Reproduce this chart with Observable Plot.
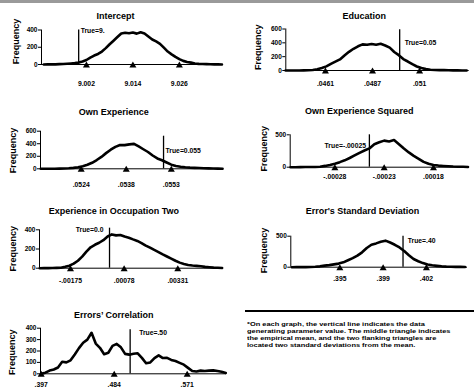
<!DOCTYPE html>
<html>
<head>
<meta charset="utf-8">
<script src="https://cdn.jsdelivr.net/npm/d3@7"></script>
<script src="https://cdn.jsdelivr.net/npm/@observablehq/plot@0.6"></script>
<style>
html, body { margin: 0; padding: 0; background: #fff; }
#chart { position: relative; width: 474px; height: 387px; overflow: hidden; background: #fff; font-family: "Liberation Sans", Arial, sans-serif; }
#topbar { position: absolute; left: 0; top: 0; width: 474px; height: 3px; background: #9a9a9a; }
.panel { position: absolute; }
#rule { position: absolute; left: 245px; top: 310.3px; width: 229px; height: 1.5px; background: #000; }
#note { position: absolute; left: 247px; top: 321px; font-size: 6.2px; line-height: 6.9px; font-weight: bold; color: #000; white-space: nowrap; transform: scaleX(1.2); transform-origin: 0 0; }
</style>
</head>
<body>
<div id="chart">
  <div id="topbar"></div>
  <div id="rule"></div>
  <div id="note">*On each graph, the vertical line indicates the data<br>generating parameter value. The middle triangle indicates<br>the empirical mean, and the two flanking triangles are<br>located two standard deviations from the mean.</div>
</div>
<script>
// ---------- Data ----------
// Intercept
const interceptTitle = "Intercept";
const interceptBinStart = 8.991, interceptBinWidth = 0.001;
const interceptFreq = [0,1,1,2,4,6,9,12,16,22,35,52,80,104,122,150,190,235,276,318,360,368,362,370,358,374,360,325,290,268,240,195,150,118,88,62,42,30,22,12,7,5,4,3,2,1,0];
const interceptTriangles = [9.002, 9.014, 9.026];
const interceptTickLabels = ["9.002", "9.014", "9.026"];
const interceptTrueLine = 9.0;
const interceptTrueLabel = "True=9.";
const interceptYTicks = [0, 200, 400];
const interceptXDomain = [8.9904, 9.0374];

// Education
const educationTitle = "Education";
const educationBinStart = 0.0439, educationBinWidth = 0.00025;
const educationFreq = [0,0,1,1,2,4,8,18,36,60,96,128,160,218,270,314,350,378,372,384,372,386,362,330,268,222,166,130,92,58,36,20,11,8,6,5,3,2,2,1,0];
const educationTriangles = [0.0461, 0.0487, 0.0513];
const educationTickLabels = [".0461", ".0487", ".051"];
const educationTrueLine = 0.0502;
const educationTrueLabel = "True=0.05";
const educationYTicks = [0, 200, 400, 600];
const educationXDomain = [0.04391, 0.05404];

// Own Experience
const ownExpTitle = "Own Experience";
const ownExpBinStart = 0.05105, ownExpBinWidth = 0.00015;
const ownExpFreq = [0,1,1,2,3,4,8,15,26,42,64,96,140,190,250,305,350,380,378,390,398,356,312,268,212,165,136,100,66,46,34,25,19,15,12,9,7,5,3,1];
const ownExpTriangles = [0.05235, 0.0538, 0.05525];
const ownExpTickLabels = [".0524", ".0538", ".0553"];
const ownExpTrueLine = 0.055;
const ownExpTrueLabel = "True=0.055";
const ownExpYTicks = [0, 200, 400, 600];
const ownExpXDomain = [0.05104, 0.05692];

// Own Experience Squared
const ownExpSqTitle = "Own Experience Squared";
const ownExpSqBinStart = -0.000325, ownExpSqBinWidth = 0.000005;
const ownExpSqFreq = [0,0,1,2,3,4,8,20,34,52,78,106,142,182,222,258,290,355,385,410,398,418,355,288,228,175,130,82,52,34,25,19,14,10,8,6,4];
const ownExpSqTriangles = [-0.00028, -0.00023, -0.00018];
const ownExpSqTickLabels = ["-.00028", "-.00023", ".00018"];
const ownExpSqTrueLine = -0.000245;
const ownExpSqTrueLabel = "True=-.00025";
const ownExpSqYTicks = [0, 500];
const ownExpSqXDomain = [-0.0003253, -0.0001455];

// Experience in Occupation Two
const occTwoTitle = "Experience in Occupation Two";
const occTwoBinStart = -0.0032, occTwoBinWidth = 0.0002;
const occTwoFreq = [0,1,1,2,3,4,14,26,48,78,120,172,218,244,265,292,330,352,342,346,330,318,300,284,262,236,214,190,168,144,122,100,78,58,44,34,28,24,20,14,10,6,4,2];
const occTwoTriangles = [-0.00175, 0.00078, 0.00331];
const occTwoTickLabels = ["-.00175", ".00078", ".00331"];
const occTwoTrueLine = 0.00009;
const occTwoTrueLabel = "True=0.0";
const occTwoYTicks = [0, 200, 400];
const occTwoXDomain = [-0.003212, 0.005404];

// Error's Standard Deviation
const errSdTitle = "Error's Standard Deviation";
const errSdBinStart = 0.3912, errSdBinWidth = 0.0004;
const errSdFreq = [0,1,1,2,4,7,14,25,34,46,58,78,112,146,186,240,310,362,384,410,428,398,362,318,262,194,132,96,66,43,31,22,14,10,8,6,5,4];
const errSdTriangles = [0.3953, 0.399, 0.4027];
const errSdTickLabels = [".395", ".399", ".402"];
const errSdTrueLine = 0.4007;
const errSdTrueLabel = "True=.40";
const errSdYTicks = [0, 500];
const errSdXDomain = [0.39111, 0.40621];

// Errors' Correlation
const errCorrTitle = "Errors\u2019 Correlation";
const errCorrBinStart = 0.397, errCorrBinWidth = 0.005;
const errCorrFreq = [0,10,28,38,55,105,100,118,170,225,272,300,360,265,228,172,185,245,262,232,175,168,176,180,140,92,100,138,162,138,140,122,112,96,80,52,24,20,28,24,28,30,24,18,8];
const errCorrTriangles = [0.397, 0.484, 0.571];
const errCorrTickLabels = [".397", ".484", ".571"];
const errCorrTrueLine = 0.503;
const errCorrTrueLabel = "True=.50";
const errCorrYTicks = [0, 100, 200, 300, 400];
const errCorrXDomain = [0.39616, 0.61784];

// ---------- Layout (page pixels) ----------
const panels = [
  {title: interceptTitle, binStart: interceptBinStart, binWidth: interceptBinWidth, freq: interceptFreq, tri: interceptTriangles, triLabels: interceptTickLabels, trueLine: interceptTrueLine, trueLabel: interceptTrueLabel, yTicks: interceptYTicks, xDomain: interceptXDomain,
   box: [0, 0, 237, 95], frame: [41, 223, 29.5, 64], titleAt: [115, 16], freqAt: [15.7, 41], trueDx: 2, trueDy: 0.5, trueAnchor: "start", trueTop: 400, labelDy: 19},
  {title: educationTitle, binStart: educationBinStart, binWidth: educationBinWidth, freq: educationFreq, tri: educationTriangles, triLabels: educationTickLabels, trueLine: educationTrueLine, trueLabel: educationTrueLabel, yTicks: educationYTicks, xDomain: educationXDomain,
   box: [237, 0, 237, 95], frame: [285.3, 468.7, 28.5, 70], titleAt: [363.7, 16], freqAt: [257.7, 46.7], trueDx: 5, trueDy: 14.2, trueAnchor: "start", trueTop: 590, labelDy: 13.3},
  {title: ownExpTitle, binStart: ownExpBinStart, binWidth: ownExpBinWidth, freq: ownExpFreq, tri: ownExpTriangles, triLabels: ownExpTickLabels, trueLine: ownExpTrueLine, trueLabel: ownExpTrueLabel, yTicks: ownExpYTicks, xDomain: ownExpXDomain,
   box: [0, 95, 237, 100], frame: [40, 222.7, 130.7, 168.3], titleAt: [113.3, 111.7], freqAt: [12.5, 150], trueDx: 2, trueDy: 19.6, trueAnchor: "start", trueTop: 520, labelDy: 16},
  {title: ownExpSqTitle, binStart: ownExpSqBinStart, binWidth: ownExpSqBinWidth, freq: ownExpSqFreq, tri: ownExpSqTriangles, triLabels: ownExpSqTickLabels, trueLine: ownExpSqTrueLine, trueLabel: ownExpSqTrueLabel, yTicks: ownExpSqYTicks, xDomain: ownExpSqXDomain,
   box: [237, 95, 237, 100], frame: [289.7, 467, 134.3, 166.7], titleAt: [358.7, 110.7], freqAt: [263.7, 148.3], trueDx: -3.4, trueDy: 11.4, trueAnchor: "end", trueTop: 500, labelDy: 10},
  {title: occTwoTitle, binStart: occTwoBinStart, binWidth: occTwoBinWidth, freq: occTwoFreq, tri: occTwoTriangles, triLabels: occTwoTickLabels, trueLine: occTwoTrueLine, trueLabel: occTwoTrueLabel, yTicks: occTwoYTicks, xDomain: occTwoXDomain,
   box: [0, 195, 237, 95], frame: [39, 221.7, 229.3, 267.7], titleAt: [113.3, 210.7], freqAt: [12.5, 248.3], trueDx: -6, trueDy: 0, trueAnchor: "end", trueTop: 417, labelDy: 12.3},
  {title: errSdTitle, binStart: errSdBinStart, binWidth: errSdBinWidth, freq: errSdFreq, tri: errSdTriangles, triLabels: errSdTickLabels, trueLine: errSdTrueLine, trueLabel: errSdTrueLabel, yTicks: errSdYTicks, xDomain: errSdXDomain,
   box: [237, 195, 237, 95], frame: [290.3, 467, 235.7, 266.7], titleAt: [362, 210.7], freqAt: [263.7, 250], trueDx: 4.7, trueDy: 5, trueAnchor: "start", trueTop: 500, labelDy: 11.6},
  {title: errCorrTitle, binStart: errCorrBinStart, binWidth: errCorrBinWidth, freq: errCorrFreq, tri: errCorrTriangles, triLabels: errCorrTickLabels, trueLine: errCorrTrueLine, trueLabel: errCorrTrueLabel, yTicks: errCorrYTicks, xDomain: errCorrXDomain,
   box: [0, 290, 237, 97], frame: [40, 226, 327.7, 373.3], titleAt: [113.3, 315], freqAt: [11.7, 351.7], trueDx: 9, trueDy: 5, trueAnchor: "start", trueTop: 386, labelDy: 10.7}
];

const FONT = "'Liberation Sans', Arial, sans-serif";
const chart = document.getElementById("chart");

for (const p of panels) {
  const [bx, by, bw, bh] = p.box;
  const [fx0, fx1, fy0, fy1] = p.frame;
  const pts = p.freq.map((f, i) => ({x: p.binStart + i * p.binWidth, y: f}));
  const tri = p.tri.map((v, i) => ({x: v, label: p.triLabels[i]}));
  const yMax = p.yTicks[p.yTicks.length - 1];
  const svg = Plot.plot({
    width: bw,
    height: bh,
    marginLeft: fx0 - bx,
    marginRight: bx + bw - fx1,
    marginTop: fy0 - by,
    marginBottom: by + bh - fy1,
    x: {domain: p.xDomain, axis: null},
    y: {domain: [0, yMax]},
    style: {fontFamily: FONT, fontWeight: "bold", fontSize: "7px", background: "transparent", overflow: "visible", color: "#000"},
    marks: [
      Plot.ruleY([0], {stroke: "#000", strokeWidth: 1}),
      Plot.ruleX([p.xDomain[0]], {y1: 0, y2: yMax, stroke: "#000", strokeWidth: 1}),
      Plot.axisY({ticks: p.yTicks, tickSize: 3, tickPadding: 1, tickFormat: d => String(d), fontSize: 6.5, fontWeight: "bold", label: null}),
      Plot.line(pts, {x: "x", y: "y", stroke: "#000", strokeWidth: 2.6, strokeLinejoin: "round", strokeLinecap: "round"}),
      Plot.ruleX([p.trueLine], {y1: 0, y2: p.trueTop, stroke: "#000", strokeWidth: 1.3}),
      Plot.dot(tri, {x: "x", y: 0, symbol: "triangle", r: 2.6, fill: "#000", stroke: "none", dy: 1}),
      Plot.text(tri, {x: "x", y: 0, text: "label", dy: p.labelDy, fontSize: 6.8, fontWeight: "bold", lineAnchor: "middle", fill: "#000"}),
      Plot.text([p.trueLabel], {x: () => p.trueLine, frameAnchor: "top", dx: p.trueDx, dy: p.trueDy, textAnchor: p.trueAnchor, lineAnchor: "middle", fontSize: 6.8, fontWeight: "bold", fill: "#000"}),
      Plot.text([p.title], {frameAnchor: "top-left", dx: p.titleAt[0] - fx0, dy: p.titleAt[1] - fy0, textAnchor: "middle", lineAnchor: "middle", fontSize: 9, fontWeight: "bold", fill: "#000"}),
      Plot.text(["Frequency"], {frameAnchor: "top-left", dx: p.freqAt[0] - fx0, dy: p.freqAt[1] - fy0, rotate: -90, textAnchor: "middle", lineAnchor: "middle", fontSize: 9, fontWeight: "bold", fill: "#000"})
    ]
  });
  svg.classList.add("panel");
  svg.style.left = bx + "px";
  svg.style.top = by + "px";
  svg.style.position = "absolute";
  chart.appendChild(svg);
}
</script>
</body>
</html>
